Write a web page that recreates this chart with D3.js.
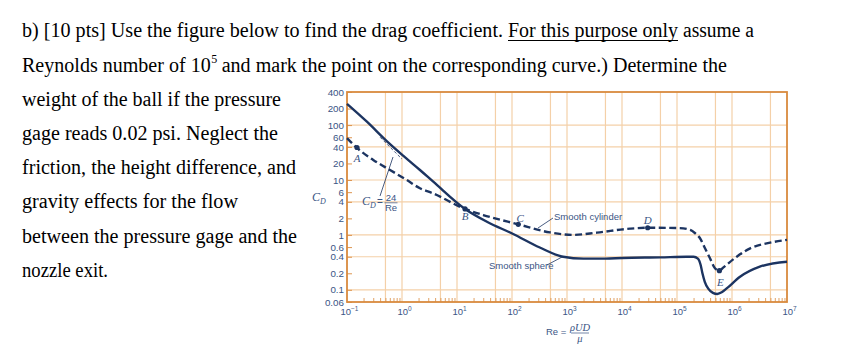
<!DOCTYPE html>
<html><head><meta charset="utf-8">
<script src="https://cdn.jsdelivr.net/npm/d3@7"></script>
<style>body{margin:0;background:#fff} svg{display:block}</style>
</head><body>
<svg id="c" width="844" height="356"></svg>
<script>
// ---------- data ----------
const sphereRe = [0.1, 0.23, 0.54, 1.1, 2.12, 3.7, 14, 35, 105, 320, 850, 2000, 5000, 1e4, 5e4, 1.5e5, 2.0e5, 2.4e5, 2.7e5, 2.9e5, 3.2e5, 3.7e5, 4.5e5, 5.4e5, 6.5e5, 8e5, 1.4e6, 3.2e6, 1e7];
const sphereCd = [243, 115, 50, 26.6, 15.2, 9.3, 2.97, 1.74, 1.04, 0.59, 0.40, 0.37, 0.37, 0.38, 0.39, 0.40, 0.40, 0.37, 0.28, 0.20, 0.14, 0.105, 0.088, 0.084, 0.09, 0.106, 0.173, 0.264, 0.325];
const cylRe = [0.1, 0.15, 0.30, 0.605, 1.22, 2.12, 3.66, 14, 30, 130, 490, 1320, 3500, 1.4e4, 2.93e4, 1.12e5, 1.74e5, 2.14e5, 2.62e5, 3.23e5, 3.98e5, 4.9e5, 5.9e5, 6.9e5, 1.22e6, 2.14e6, 4.27e6, 1e7];
const cylCd = [58, 38.8, 23.2, 15.2, 10, 7.06, 5.7, 2.97, 2.3, 1.56, 1.11, 1.0, 1.1, 1.3, 1.35, 1.33, 1.23, 1.07, 0.87, 0.57, 0.375, 0.247, 0.223, 0.253, 0.40, 0.57, 0.70, 0.81];
const stokesRe = [0.4, 1.0];
const stokesCd = [60, 24];
const markerLabels = ["A", "B", "C", "D", "E"];
const markerRe = [0.152, 14, 130, 29300, 590000];
const markerCd = [39, 2.97, 1.56, 1.35, 0.223];
const xTickExps = [-1, 0, 1, 2, 3, 4, 5, 6, 7];
const yTickLabels = [400, 200, 100, 60, 40, 20, 10, 6, 4, 2, 1, 0.6, 0.4, 0.2, 0.1, 0.06];
const xGrid = [0.5, 1, 5, 10, 50, 100, 500, 1e3, 5e3, 1e4, 5e4, 1e5, 5e5, 1e6, 5e6];
const yGrid = [0.1, 0.4, 1, 4, 10, 40, 100];
const line1 = ["b) [10 pts] Use the figure below to find the drag coefficient.", "For this purpose only", "assume a"];
const line2 = ["Reynolds number of 10", "5", "and mark the point on the corresponding curve.) Determine the"];
const sideLines = ["weight of the ball if the pressure", "gage reads 0.02 psi. Neglect the", "friction, the height difference, and", "gravity effects for the flow", "between the pressure gage and the", "nozzle exit."];

// ---------- setup ----------
const svg = d3.select('#c');
svg.append('rect').attr('width', 844).attr('height', 356).attr('fill', '#fff');
const x = d3.scaleLog().domain([0.1, 1e7]).range([347, 787]);
const y = d3.scaleLog().domain([0.06, 400]).range([302, 92]);
const NAVY = '#1c3461', LBL = '#3a5585', FRAME = '#d98a3e', GRID = '#f4d0a8';
const SERIF = '"Liberation Serif","Times New Roman",serif';
const SANS = '"Liberation Sans",Arial,sans-serif';

// ---------- text block ----------
function fit(str, x0, x1, base, size) {
  return svg.append('text').attr('x', x0).attr('y', base)
    .attr('font-family', SERIF).attr('font-size', size).attr('fill', '#000')
    .attr('textLength', x1 - x0).attr('lengthAdjust', 'spacingAndGlyphs').text(str);
}
function natural(str, size) {
  const t = svg.append('text').attr('font-family', SERIF).attr('font-size', size).text(str);
  const w = t.node().getComputedTextLength(); t.remove(); return w;
}
fit(line1[0], 22, 503, 37, 20);
fit(line1[1], 508, 678, 37, 20);
fit(line1[2], 683, 754, 37, 20);
svg.append('line').attr('x1', 508).attr('x2', 678).attr('y1', 40.5).attr('y2', 40.5).attr('stroke', '#000').attr('stroke-width', 1);

// line 2 : proportional layout of parts
{
  const w0 = natural(line2[0], 20), ws = natural(line2[1], 12), sp = natural('a a', 20) - natural('aa', 20), w2 = natural(line2[2], 20);
  const s = (727 - 22) / (w0 + ws + sp + w2);
  let cx = 22;
  fit(line2[0], cx, cx + w0 * s, 71.5, 20); cx += w0 * s;
  svg.append('text').attr('x', cx + 0.5).attr('y', 63).attr('font-family', SERIF).attr('font-size', 12)
    .attr('textLength', ws * s).attr('lengthAdjust', 'spacingAndGlyphs').text(line2[1]);
  cx += ws * s + sp * s;
  fit(line2[2], cx, 727, 71.5, 20);
}
const sideEnds = [281, 278, 296, 238, 297, 108];
sideLines.forEach((s, i) => fit(s, 22, sideEnds[i], 105.5 + 34.3 * i, 20));

// ---------- grid & frame ----------
const g = svg.append('g');
g.selectAll('.vg').data(xGrid).join('line')
  .attr('x1', d => x(d)).attr('x2', d => x(d)).attr('y1', y(400)).attr('y2', y(0.06))
  .attr('stroke', GRID).attr('stroke-width', 1.2);
g.selectAll('.hg').data(yGrid).join('line')
  .attr('y1', d => y(d)).attr('y2', d => y(d)).attr('x1', x(0.1)).attr('x2', x(1e7))
  .attr('stroke', GRID).attr('stroke-width', 1.2);

// minor x ticks
const minor = [];
for (let e = -1; e < 7; e++) for (let k = 2; k <= 9; k++) minor.push(k * Math.pow(10, e));
const xMinorAxis = d3.axisBottom(x).tickValues(minor).tickSize(-4).tickFormat('');
g.append('g').attr('transform', `translate(0,${y(0.06)})`).call(xMinorAxis)
  .call(a => a.select('.domain').remove())
  .call(a => a.selectAll('line').attr('stroke', FRAME).attr('stroke-width', 0.8));

// y axis ticks + labels
const yAxis = d3.axisLeft(y).tickValues(yTickLabels).tickSizeInner(-5).tickSizeOuter(0).tickPadding(3).tickFormat(d => String(d));
g.append('g').attr('transform', `translate(${x(0.1)},0)`).call(yAxis)
  .call(a => a.select('.domain').remove())
  .call(a => a.selectAll('line').attr('stroke', FRAME).attr('stroke-width', 0.9))
  .call(a => a.selectAll('text').attr('font-family', SANS).attr('font-size', 9.8).attr('fill', LBL));

// x axis labels (10^n)
const xAxis = d3.axisBottom(x).tickValues(xTickExps.map(e => Math.pow(10, e))).tickSize(0).tickFormat('');
const xa = g.append('g').attr('transform', `translate(0,${y(0.06)})`).call(xAxis);
xa.select('.domain').remove();
xa.selectAll('.tick').each(function (d, i) {
  const t = d3.select(this).append('text').attr('x', 2).attr('y', 12.5)
    .attr('text-anchor', 'middle').attr('font-family', SANS).attr('font-size', 9.5).attr('fill', LBL);
  t.append('tspan').text('10');
  t.append('tspan').attr('dy', -4).attr('font-size', 6.5).text(xTickExps[i] < 0 ? '\u22121' : String(xTickExps[i]));
});

// frame
g.append('rect').attr('x', x(0.1)).attr('y', y(400)).attr('width', x(1e7) - x(0.1)).attr('height', y(0.06) - y(400))
  .attr('fill', 'none').attr('stroke', FRAME).attr('stroke-width', 1.8);

// ---------- curves ----------
const line = d3.line().x(d => x(d[0])).y(d => y(d[1])).curve(d3.curveMonotoneX);
svg.append('path').attr('d', line(d3.zip(sphereRe, sphereCd)))
  .attr('fill', 'none').attr('stroke', NAVY).attr('stroke-width', 2.4);
svg.append('path').attr('d', line(d3.zip(cylRe, cylCd)))
  .attr('fill', 'none').attr('stroke', NAVY).attr('stroke-width', 2.4).attr('stroke-dasharray', '7,3.5');
svg.append('path').attr('d', d3.line().x(d => x(d[0])).y(d => y(d[1]))(d3.zip(stokesRe, stokesCd)))
  .attr('fill', 'none').attr('stroke', NAVY).attr('stroke-width', 0.8).attr('stroke-dasharray', '3,2');

// markers
svg.selectAll('.mk').data(d3.zip(markerRe, markerCd)).join('circle')
  .attr('cx', d => x(d[0])).attr('cy', d => y(d[1])).attr('r', 2.6).attr('fill', NAVY);
const lblOff = [[0, 10], [0, 7.5], [2, -6.5], [0, -7.5], [1, 11]];
svg.selectAll('.ml').data(markerLabels).join('text')
  .attr('x', (d, i) => x(markerRe[i]) + lblOff[i][0]).attr('y', (d, i) => y(markerCd[i]) + lblOff[i][1])
  .attr('text-anchor', 'middle').attr('dominant-baseline', 'central')
  .attr('font-family', SERIF).attr('font-style', 'italic').attr('font-size', 11).attr('fill', LBL).text(d => d);

// ---------- annotations ----------
function leader(x1, y1, x2, y2) {
  svg.append('line').attr('x1', x1).attr('y1', y1).attr('x2', x2).attr('y2', y2)
    .attr('stroke', NAVY).attr('stroke-width', 0.8);
}
svg.append('text').attr('x', 554).attr('y', 220).attr('font-family', SANS).attr('font-size', 9.5).attr('fill', LBL).text('Smooth cylinder');
leader(553, 218, 538, 228);
svg.append('text').attr('x', 489).attr('y', 269).attr('font-family', SANS).attr('font-size', 9.5).attr('fill', LBL).text('Smooth sphere');
leader(547, 265, 563, 256.5);

// C_D axis label
const cdl = svg.append('text').attr('x', 312).attr('y', 201).attr('font-family', SERIF).attr('font-style', 'italic').attr('font-size', 12).attr('fill', LBL);
cdl.append('tspan').text('C');
cdl.append('tspan').attr('dy', 2.5).attr('font-size', 8).text('D');

// C_D = 24/Re
const st = svg.append('text').attr('x', 362).attr('y', 205).attr('font-family', SERIF).attr('font-style', 'italic').attr('font-size', 12).attr('fill', LBL);
st.append('tspan').text('C');
st.append('tspan').attr('dy', 2.5).attr('font-size', 8).text('D');
svg.append('text').attr('x', 380).attr('y', 205).attr('text-anchor', 'middle').attr('font-family', SANS).attr('font-size', 10).attr('fill', LBL).text('=');
svg.append('text').attr('x', 391).attr('y', 201).attr('text-anchor', 'middle').attr('font-family', SANS).attr('font-size', 9.5).attr('fill', LBL).text('24');
svg.append('line').attr('x1', 384.5).attr('x2', 397.5).attr('y1', 202.8).attr('y2', 202.8).attr('stroke', LBL).attr('stroke-width', 0.7);
svg.append('text').attr('x', 391).attr('y', 211).attr('text-anchor', 'middle').attr('font-family', SANS).attr('font-size', 9.5).attr('fill', LBL).text('Re');
leader(380, 196, 393, 157);

// x-axis title Re = rho U D / mu
svg.append('text').attr('x', 546).attr('y', 334.5).attr('font-family', SANS).attr('font-size', 9.5).attr('fill', LBL).text('Re =');
svg.append('text').attr('x', 580).attr('y', 330.5).attr('text-anchor', 'middle').attr('font-family', SERIF).attr('font-style', 'italic').attr('font-size', 10.5).attr('fill', LBL).text('\u03C1UD');
svg.append('line').attr('x1', 571).attr('x2', 589).attr('y1', 333).attr('y2', 333).attr('stroke', LBL).attr('stroke-width', 0.7);
svg.append('text').attr('x', 580).attr('y', 342).attr('text-anchor', 'middle').attr('font-family', SERIF).attr('font-style', 'italic').attr('font-size', 10.5).attr('fill', LBL).text('\u03BC');
</script>
</body></html>
